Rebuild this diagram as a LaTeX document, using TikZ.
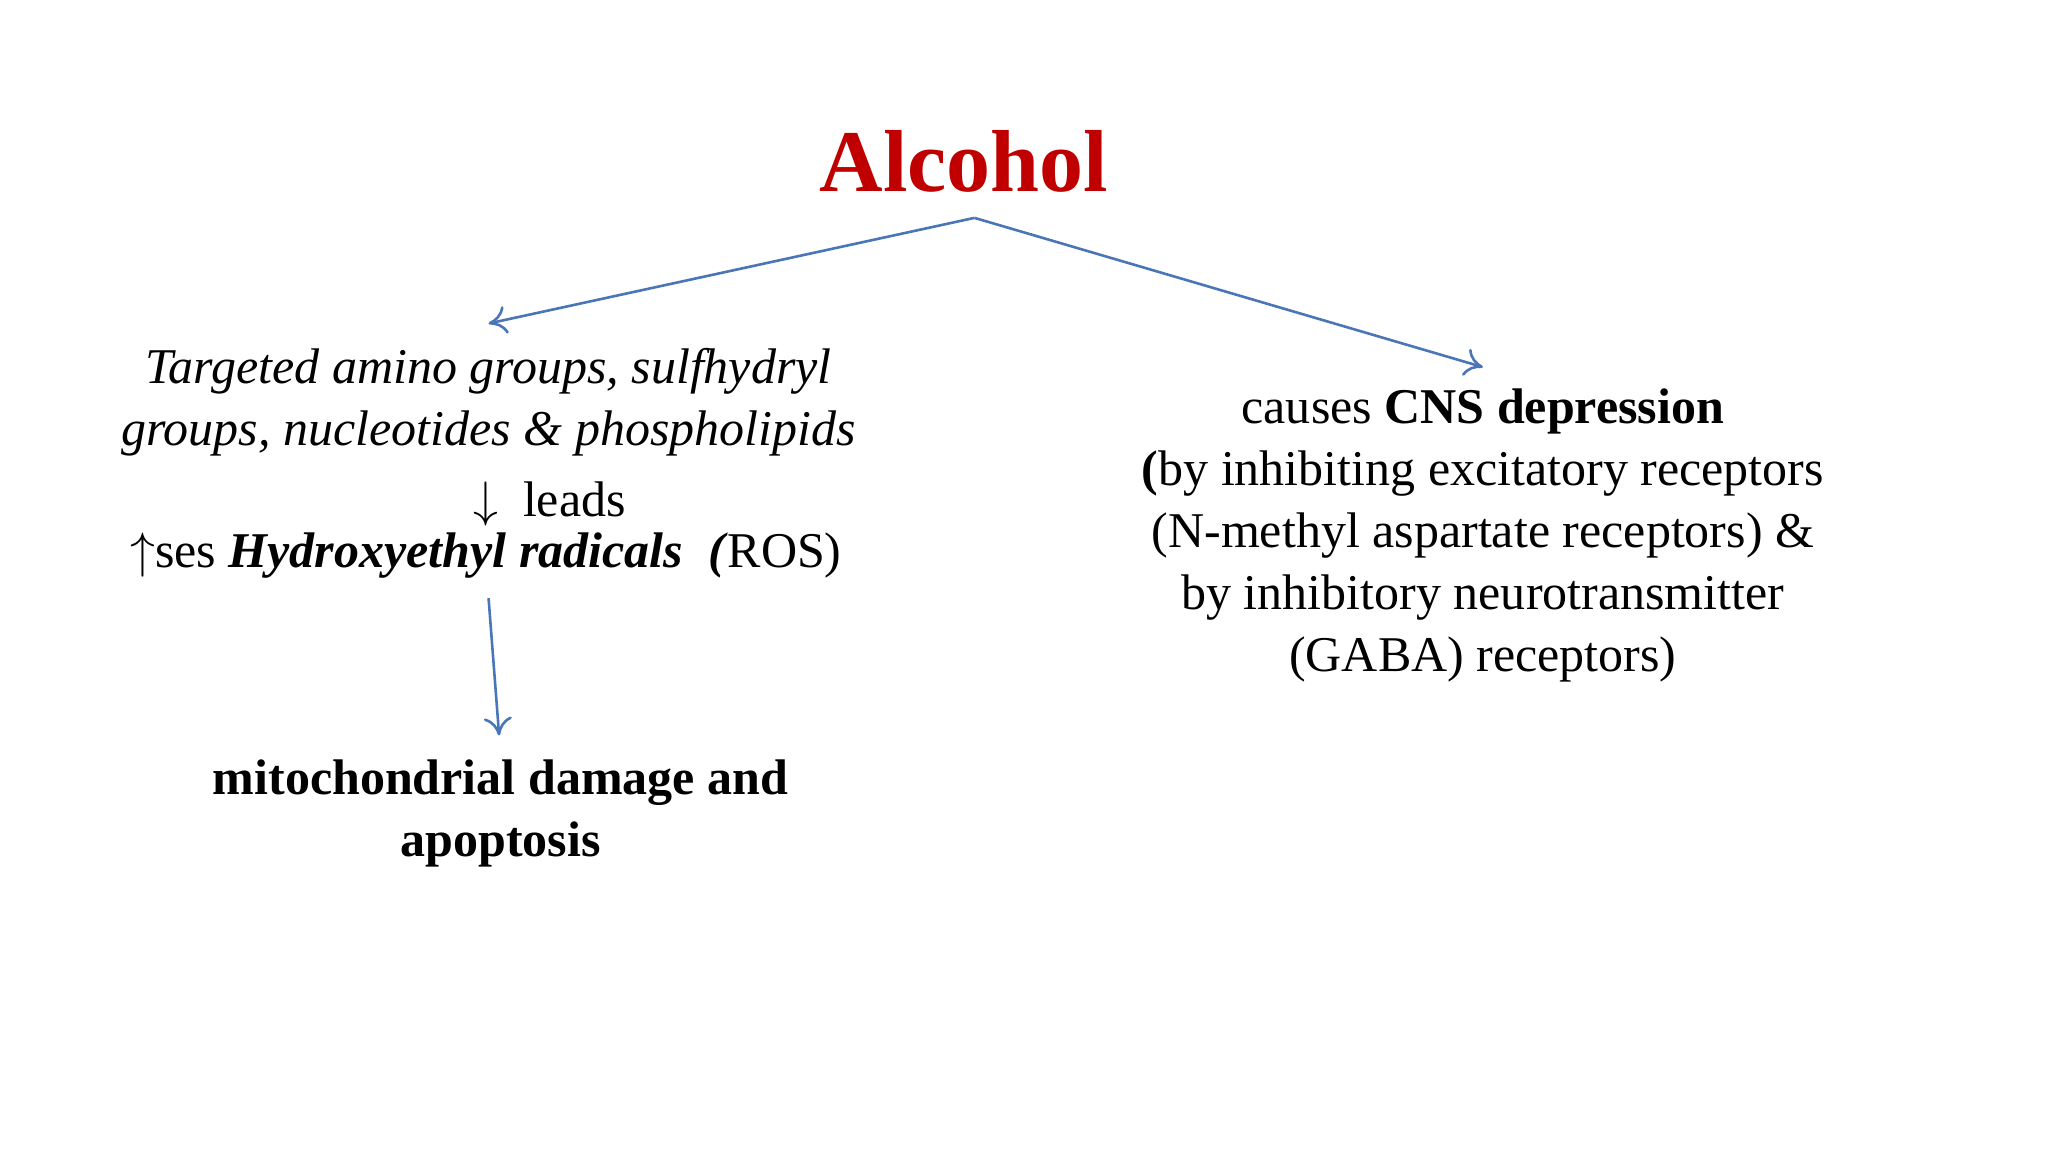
\documentclass[tikz,border=0pt]{standalone}
\usepackage{fontspec}
\setmainfont{Liberation Serif}
\usetikzlibrary{arrows.meta}
\definecolor{arr}{RGB}{74,118,184}
\definecolor{alc}{RGB}{192,0,0}
\begin{document}
\begin{tikzpicture}[x=0.66pt,y=-0.66pt,
  txt/.style={font=\fontsize{25}{31}\selectfont,align=center,inner sep=0pt},
  con/.style={draw=arr,line width=1.3pt,-{To[length=9pt,width=14pt]}}]
\useasboundingbox (0,0) rectangle (1551,873);
\node[font=\fontsize{44}{50}\selectfont\bfseries,text=alc,inner sep=0pt] (alc) at (730,122) {Alcohol};
\coordinate (top) at (738,165);
\coordinate (lt) at (370,245);
\coordinate (rt) at (1123,278);
\draw[con] (top) -- (lt);
\draw[con] (top) -- (rt);
\node[txt,font=\fontsize{25}{31}\selectfont\itshape] (l1) at (370,281) {Targeted amino groups, sulfhydryl};
\node[txt,font=\fontsize{25}{31}\selectfont\itshape] (l2) at (370,328) {groups, nucleotides \& phospholipids};
\node[txt,anchor=west] (l3) at (358,382) {$\downarrow$\ \ leads};
\node[txt] (l4) at (368,421) {$\uparrow$ses \textbf{\textit{Hydroxyethyl radicals}}\ \ \textbf{\textit{(}}ROS)};
\coordinate (a1) at (370,453);
\coordinate (a2) at (378,557);
\draw[con] (a1) -- (a2);
\node[txt,font=\fontsize{25}{31}\selectfont\bfseries] (m) at (379,616) {mitochondrial damage and\\apoptosis};
\node[txt,anchor=north] (r) at (1123,294) {causes \textbf{CNS depression}\\\textbf{(}by inhibiting excitatory receptors\\(N-methyl aspartate receptors) \&\\by inhibitory neurotransmitter\\(GABA) receptors)};
\end{tikzpicture}
\end{document}
